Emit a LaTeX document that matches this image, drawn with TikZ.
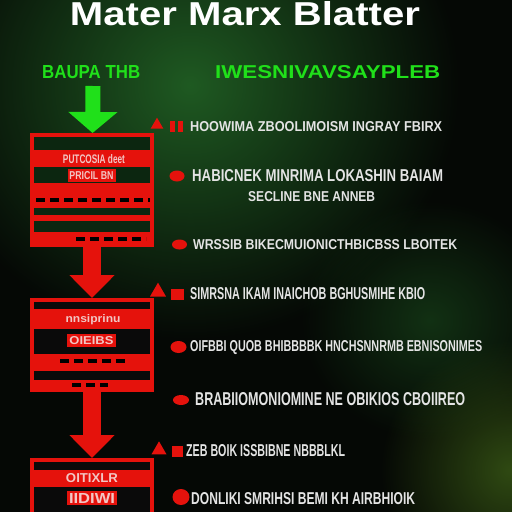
\documentclass[tikz,border=0pt]{standalone}
\usepackage{fontspec}
\setmainfont{Liberation Sans}
\usetikzlibrary{arrows.meta,shapes.geometric,fadings}

\definecolor{bgdark}{HTML}{050805}
\definecolor{glowgreen}{HTML}{1F5A22}
\definecolor{olive}{HTML}{3A5A16}
\definecolor{boxred}{HTML}{E5120C}
\definecolor{bandgreen}{HTML}{0C2610}
\definecolor{bandblack}{HTML}{0A0A0A}
\definecolor{textgray}{HTML}{E4E4E4}
\definecolor{pinktext}{HTML}{F2C6C4}
\definecolor{headgreen}{HTML}{20E01A}

\tikzfading[name=glow, inner color=transparent!0, outer color=transparent!100]

\newcommand{\squeeze}[3]{\resizebox{#1}{#2}{\bfseries #3}}

\begin{document}
\begin{tikzpicture}[x=1pt,y=-1pt,
	txt/.style={anchor=west, inner sep=0pt, text=textgray},
	head/.style={anchor=west, inner sep=0pt, text=headgreen},
	intxt/.style={inner sep=0pt, text=pinktext},
	hl/.style={fill=boxred, inner sep=2pt, text=pinktext},
	redbox/.style={draw=boxred, fill=boxred, line width=3pt, minimum width=121pt, inner sep=0pt},
	blockarrow/.style={draw=boxred, line width=18pt, -{Triangle[width=44pt,length=23pt]}},
	greenarrow/.style={draw=headgreen, line width=15pt, -{Triangle[width=48pt,length=21pt]}},
	blob/.style={ellipse, fill=boxred, inner sep=0pt},
	tip/.style={isosceles triangle, isosceles triangle apex angle=60, shape border rotate=90, fill=boxred, inner sep=0pt, minimum height=11pt},
	bars/.style={rectangle, fill=boxred, inner sep=0pt, minimum width=5pt, minimum height=11pt},
	sq/.style={rectangle, fill=boxred, inner sep=0pt, minimum width=13pt, minimum height=11pt},
	dashrow/.style={draw=black, line width=4pt, dash pattern=on 9pt off 5pt}]

	\useasboundingbox (0,0) rectangle (512,512);
	\clip (0,0) rectangle (512,512);
	\fill[bgdark] (0,0) rectangle (512,512);
	\fill[glowgreen, path fading=glow] (-80,-170) rectangle (460,340);
	\fill[glowgreen, path fading=glow, opacity=0.5] (300,200) rectangle (560,440);
	\fill[olive, path fading=glow, opacity=0.8] (380,340) rectangle (640,600);

	\node[inner sep=0pt, text=white] (title) at (245,14) {\squeeze{350pt}{24pt}{Mater Marx Blatter}};
	\node[head] (inhead) at (42,72.5) {\squeeze{98pt}{13pt}{BAUPA THB}};
	\node[head] (outhead) at (215,72.5) {\squeeze{225pt}{13pt}{IWESNIVAVSAYPLEB}};

	\node[redbox, minimum height=111pt] (b1) at (92,190) {};
	\node[redbox, minimum height=91pt] (b2) at (92,345) {};
	\node[redbox, minimum height=80pt] (b3) at (92,499.5) {};

	\fill[bandgreen] (34,137) rectangle (150,150);
	\fill[bandgreen] (34,167) rectangle (150,183);
	\fill[bandgreen] (34,208) rectangle (150,215);
	\fill[bandgreen] (34,221) rectangle (150,232);
	\fill[bandblack] (34,302) rectangle (150,309);
	\fill[bandblack] (34,329) rectangle (150,354);
	\fill[bandblack] (34,371) rectangle (150,380);
	\fill[bandblack] (34,462) rectangle (150,470);
	\fill[bandblack] (34,487) rectangle (150,512);
	\draw[dashrow] (36,200) -- (150,200);
	\draw[dashrow] (76,239) -- (146,239);
	\draw[dashrow] (60,361) -- (126,361);
	\draw[dashrow] (72,385) -- (108,385);

	\node[intxt] (b1a) at (94,159) {\squeeze{62pt}{9pt}{PUTCOSIA deet}};
	\node[hl] (b1b) at (91.5,175.5) {\squeeze{44pt}{8pt}{PRICIL BN}};
	\node[intxt] (b2a) at (93,320) {\squeeze{55pt}{8pt}{nnsiprinu}};
	\node[hl] (b2b) at (91.5,340.5) {\squeeze{44pt}{8pt}{OIEIBS}};
	\node[hl] (b3a) at (92,478) {\squeeze{52pt}{9pt}{OITIXLR}};
	\node[hl] (b3b) at (92,498) {\squeeze{46pt}{10pt}{IIDIWI}};

	\coordinate (start) at (93,86);
	\draw[greenarrow] (start) -- (b1);
	\draw[blockarrow] (b1) -- (b2);
	\draw[blockarrow] (b2) -- (b3);

	\node[tip] (t1) at (157,125) {};
	\node[bars] (k1) at (172.5,126) {};
	\node[bars] (k2) at (180.5,126) {};
	\node[blob, minimum width=15pt, minimum height=11pt] (d2) at (177,176) {};
	\node[blob, minimum width=15pt, minimum height=10pt] (d3) at (179.5,244.5) {};
	\node[tip, minimum height=14pt] (t4) at (158,292) {};
	\node[sq] (s4) at (177.5,294) {};
	\node[blob, minimum width=16pt, minimum height=12pt] (d5) at (178.5,347) {};
	\node[blob, minimum width=16pt, minimum height=10pt] (d6) at (181,400) {};
	\node[tip, minimum height=13pt] (t7) at (159,450) {};
	\node[sq, minimum width=11pt] (s7) at (177.5,451) {};
	\node[blob, minimum width=17pt, minimum height=16pt] (d8) at (181,497) {};

	\node[txt] (r1) at (190,127) {\squeeze{252pt}{10pt}{HOOWIMA ZBOOLIMOISM INGRAY FBIRX}};
	\node[txt] (r2) at (192,176) {\squeeze{251pt}{12pt}{HABICNEK MINRIMA LOKASHIN BAIAM}};
	\node[txt] (r2b) at (248,197) {\squeeze{127pt}{10pt}{SECLINE BNE ANNEB}};
	\node[txt] (r3) at (193,245) {\squeeze{264pt}{10pt}{WRSSIB BIKECMUIONICTHBICBSS LBOITEK}};
	\node[txt] (r4) at (190,294) {\squeeze{235pt}{12pt}{SIMRSNA IKAM INAICHOB BGHUSMIHE KBIO}};
	\node[txt] (r5) at (190,347.5) {\squeeze{292pt}{11pt}{OIFBBI QUOB BHIBBBBK HNCHSNNRMB EBNISONIMES}};
	\node[txt] (r6) at (195,399.5) {\squeeze{270pt}{13pt}{BRABIIOMONIOMINE NE OBIKIOS CBOIIREO}};
	\node[txt] (r7) at (186,451) {\squeeze{159pt}{12pt}{ZEB BOIK ISSBIBNE NBBBLKL}};
	\node[txt] (r8) at (191,499) {\squeeze{224pt}{12pt}{DONLIKI SMRIHSI BEMI KH AIRBHIOIK}};
\end{tikzpicture}
\end{document}
